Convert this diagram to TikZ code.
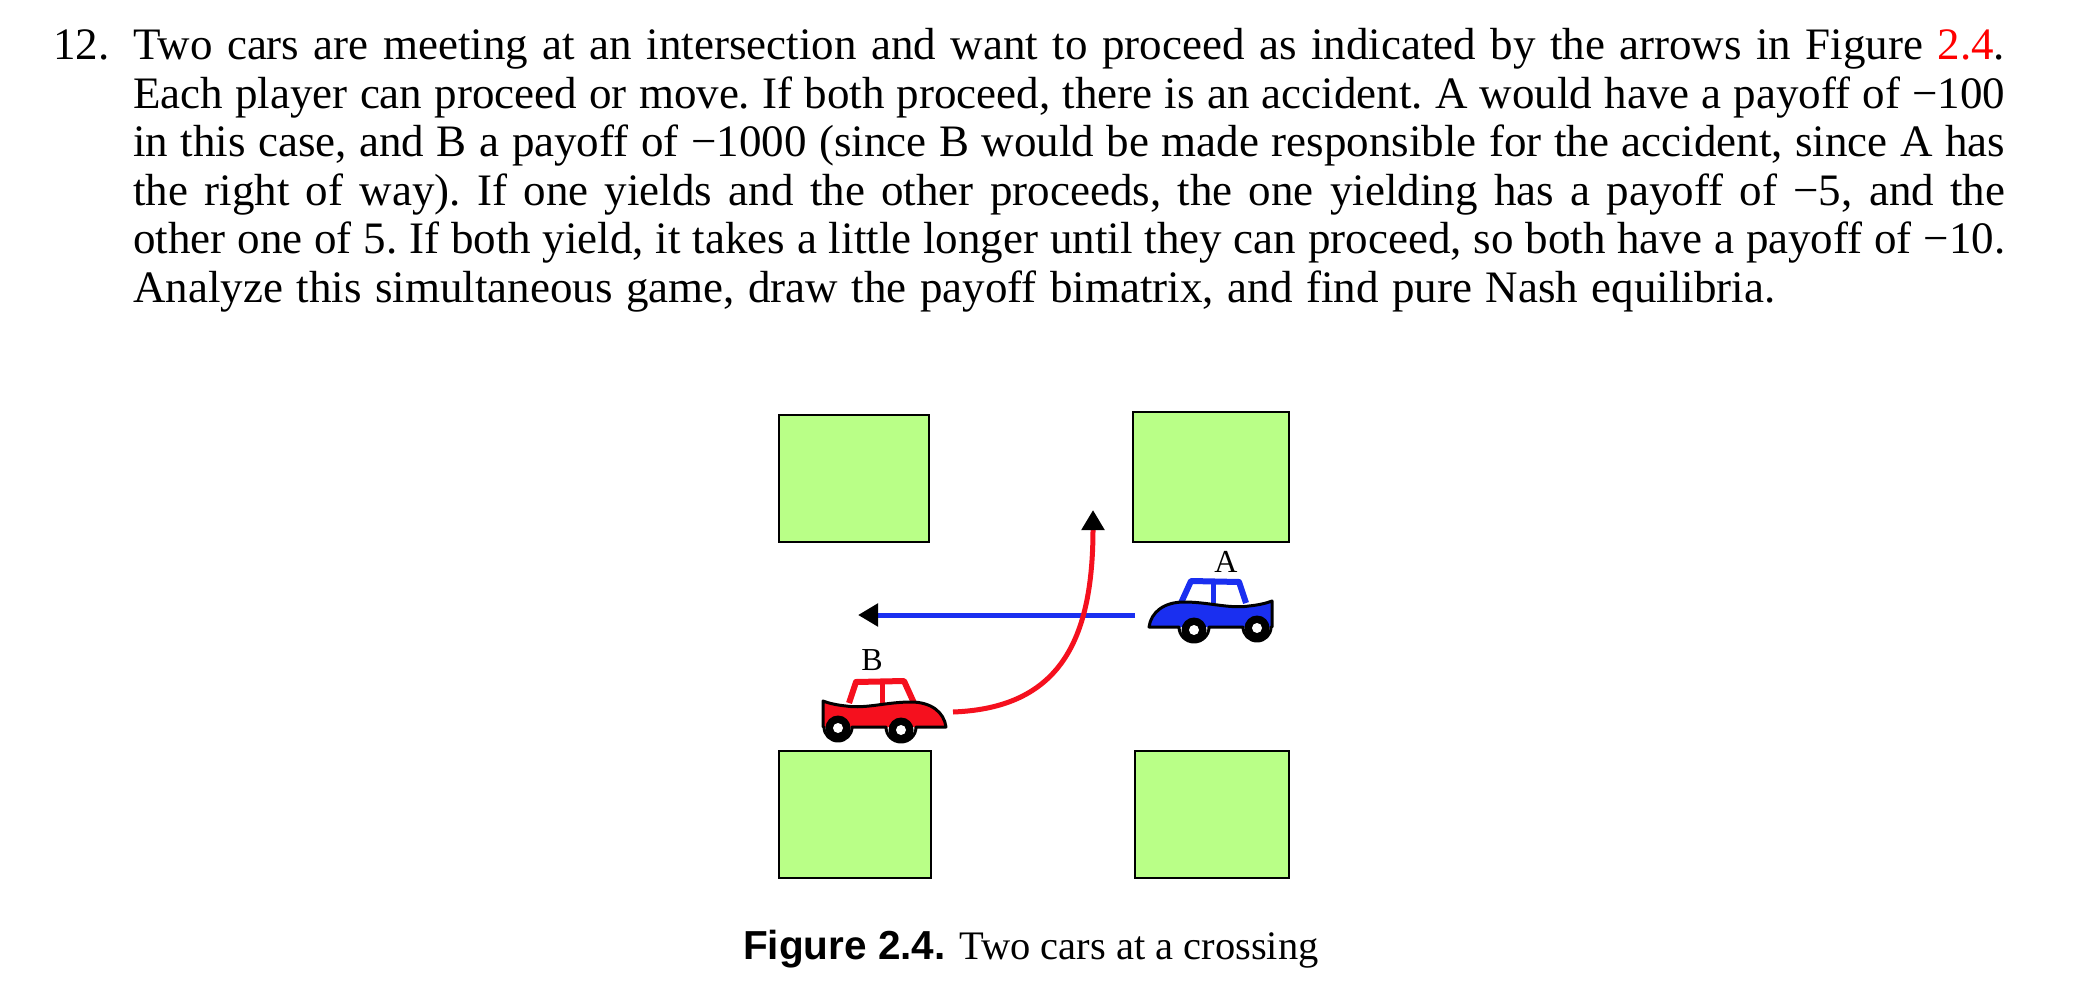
\documentclass[tikz,border=0pt]{standalone}
\usepackage{fontspec}
\setmainfont{Liberation Serif}
\newfontfamily\capsans{Liberation Sans}
\usetikzlibrary{arrows.meta}
\definecolor{blockgreen}{HTML}{B9FF87}
\definecolor{carblue}{HTML}{1A2FF0}
\definecolor{carred}{HTML}{F5101E}
\tikzset{
  block/.style={draw=black,line width=2.5pt,fill=blockgreen},
  tip/.style={-{Triangle[length=20pt,width=22pt,color=black,fill=black]}},
  lbl/.style={font=\fontsize{32}{36}\selectfont,anchor=base},
}
\newcommand\drawcar[1]{%
  \draw[#1,line width=6pt,fill=white,line join=round] (32,-24) -- (42,-46) -- (90,-45) -- (97,-24);
  \draw[#1,line width=5pt] (64,-46) -- (64,-24);
  \fill[#1] (0,0) .. controls (2,-15) and (15,-25) .. (35,-25) .. controls (60,-25) and (80,-18) .. (100,-21) .. controls (110,-22) and (118,-24) .. (123,-26) -- (123,0) -- cycle;
  \draw[black,line width=3pt,line join=round] (0,0) .. controls (2,-15) and (15,-25) .. (35,-25) .. controls (60,-25) and (80,-18) .. (100,-21) .. controls (110,-22) and (118,-24) .. (123,-26) -- (123,0) -- (122,0) arc (0:180:14) -- (60,0) arc (0:180:15) -- cycle;
  \fill[black] (45,3) circle (12.5) (108,1) circle (12.5);
  \fill[white] (45,3) circle (5) (108,1) circle (5);
}
\begin{document}
\begin{tikzpicture}[x=1pt,y=-1pt]
\useasboundingbox[fill=white] (0,0) rectangle (2092,1000);
\node[anchor=base west,inner sep=0] (num) at (53,60) {\fontsize{45}{48.5}\selectfont 12.};
\node[anchor=base west,inner sep=0] (para) at (133,60) {\parbox[t]{1872pt}{\fontsize{45}{48.5}\selectfont\frenchspacing\spaceskip=0.3em plus 0.3em minus 0.05em
Two cars are meeting at an intersection and want to proceed as indicated by the arrows in Figure \textcolor{red}{2.4}.\linebreak
Each player can proceed or move. If both proceed, there is an accident. A would have a payoff of −100\linebreak
in this case, and B a payoff of −1000 (since B would be made responsible for the accident, since A has\linebreak
the right of way). If one yields and the other proceeds, the one yielding has a payoff of −5, and the\linebreak
other one of 5. If both yield, it takes a little longer until they can proceed, so both have a payoff of −10.\linebreak
Analyze this simultaneous game, draw the payoff bimatrix, and find pure Nash equilibria.}};
\node[block,minimum width=150pt,minimum height=127pt,inner sep=0] (tl) at (854,478.5) {};
\node[block,minimum width=156pt,minimum height=130pt,inner sep=0] (tr) at (1211,477) {};
\node[block,minimum width=152pt,minimum height=127pt,inner sep=0] (bl) at (855,814.5) {};
\node[block,minimum width=154pt,minimum height=127pt,inner sep=0] (br) at (1212,814.5) {};
\coordinate (astart) at (1135,615);
\coordinate (aend) at (858,615);
\coordinate (bstart) at (953,712);
\coordinate (bend) at (1093,510);
\draw[carblue,line width=5pt,tip] (astart) -- (aend);
\draw[carred,line width=5pt,tip] (bstart) .. controls (1060,708) and (1093,640) .. (bend);
\begin{scope}[shift={(1149,627)}]\drawcar{carblue}\end{scope}
\begin{scope}[shift={(946,727)},xscale=-1]\drawcar{carred}\end{scope}
\node[lbl] (la) at (1226,572) {A};
\node[lbl] (lb) at (872,670) {B};
\node[anchor=base west,inner sep=0] (cap) at (743,959) {\fontsize{40.5}{44}\selectfont{\capsans\bfseries Figure 2.4.} Two cars at a crossing};
\end{tikzpicture}
\end{document}
